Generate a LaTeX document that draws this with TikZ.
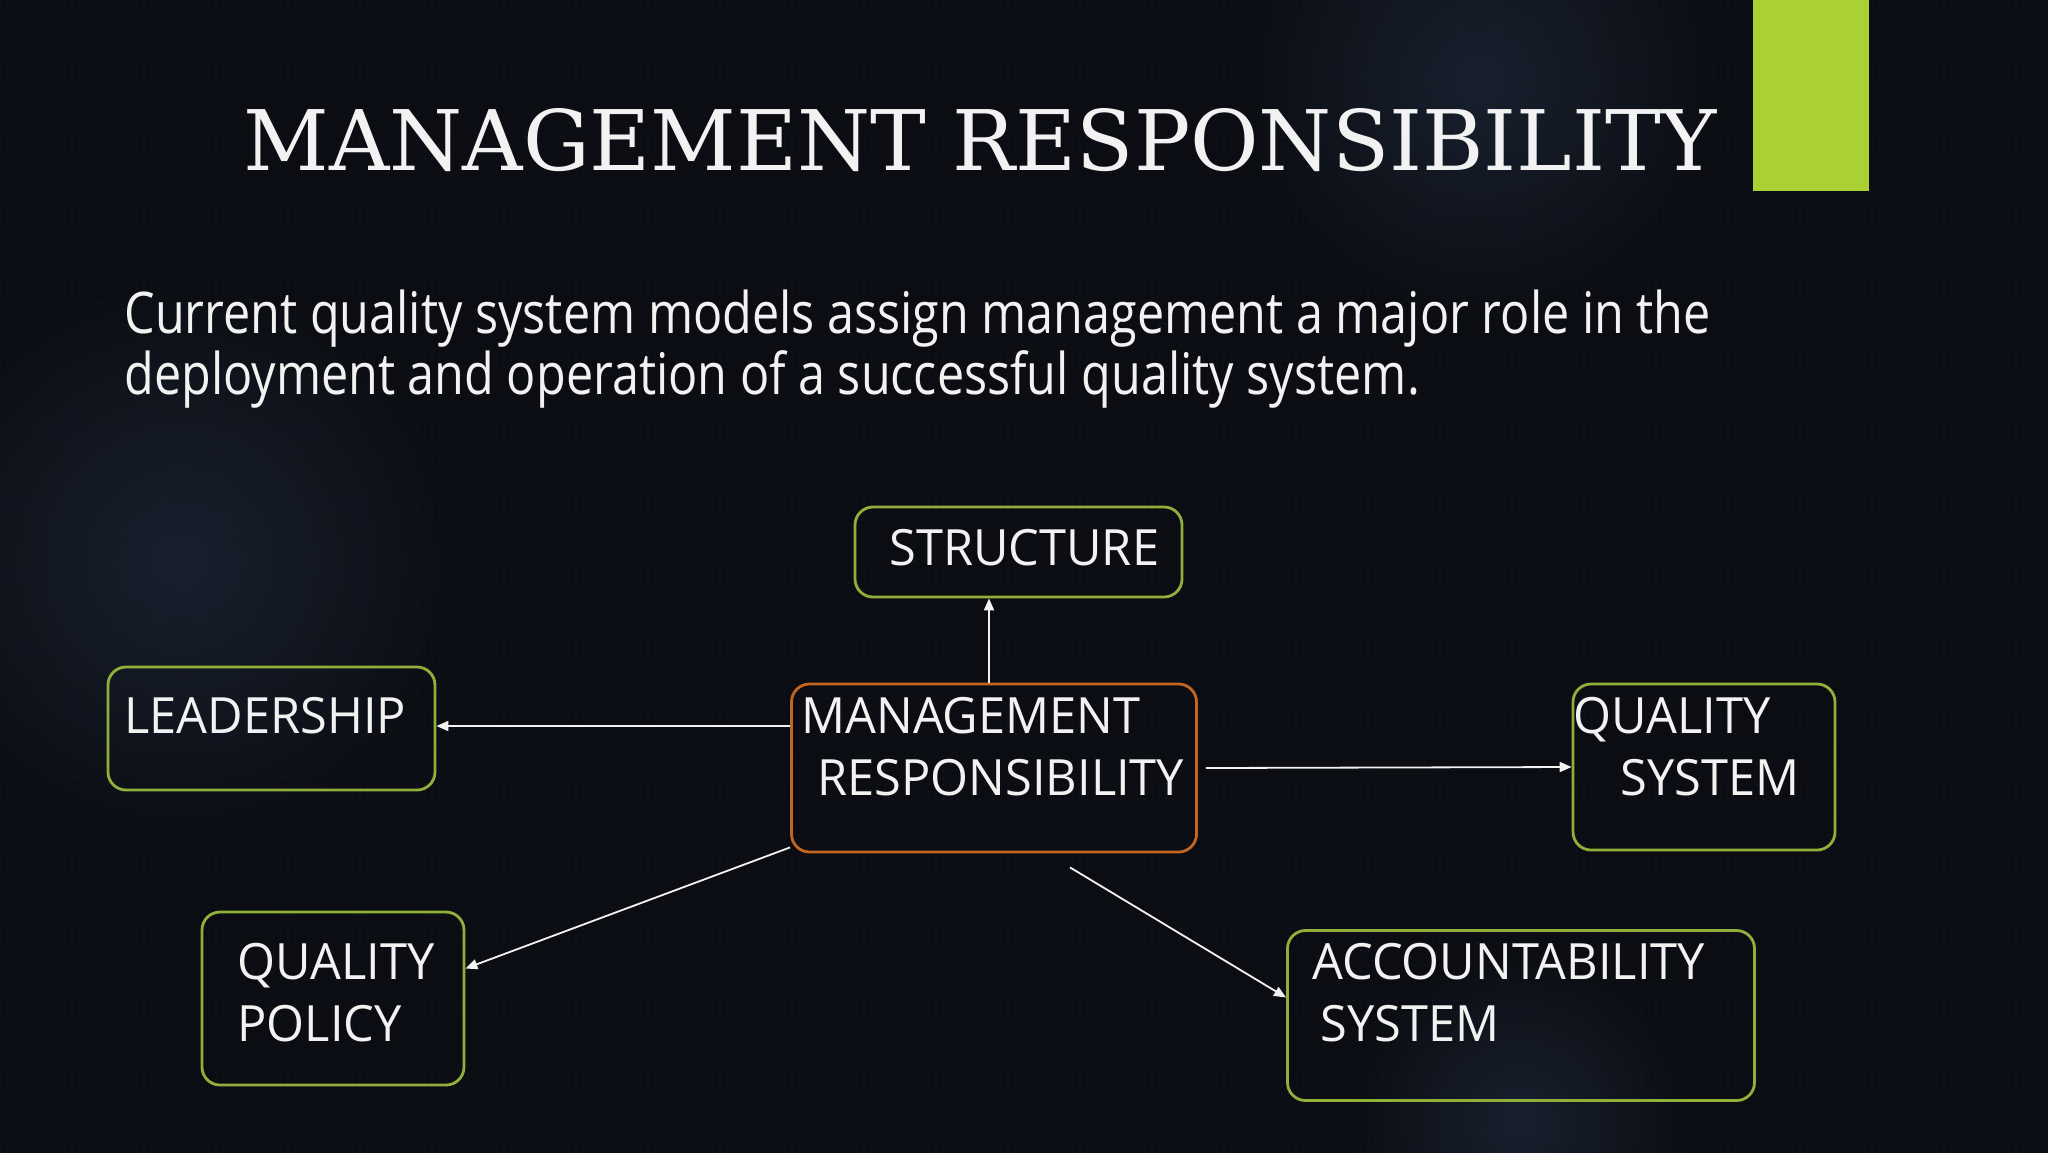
\documentclass[tikz,border=0pt]{standalone}
\usepackage{fontspec}
\setmainfont{Open Sans}[FakeStretch=0.975]
\newfontfamily\bodyfont{Open Sans}[FakeStretch=0.845]
\newfontfamily\titlefont{DejaVu Serif}
\usetikzlibrary{arrows.meta,patterns.meta,calc}
\definecolor{bg}{HTML}{0B0D12}
\definecolor{glow}{HTML}{18202E}
\definecolor{dotc}{HTML}{161A38}
\definecolor{bar}{HTML}{A9D134}
\definecolor{boxgreen}{HTML}{90B03A}
\definecolor{boxorange}{HTML}{C4661F}
\definecolor{txt}{HTML}{F2F2F2}
\tikzset{
  box/.style={draw=boxgreen, line width=1.4pt, rounded corners=9pt, rectangle, inner sep=0pt},
  obox/.style={box, draw=boxorange},
  btext/.style={anchor=north west, inner sep=0pt, align=left, text=txt,
    font=\fontsize{25}{31}\selectfont},
  arr/.style={draw=txt, line width=0.9pt, -{Triangle[length=6pt,width=5pt]}},
}
\begin{document}
\begin{tikzpicture}[x=0.5pt,y=-0.5pt]
\useasboundingbox (0,0) rectangle (2048,1152);
\fill[bg] (-20,-20) rectangle (2068,1172);
\shade[inner color=glow, outer color=bg] (1480,80) circle[radius=240];
\shade[inner color=glow, outer color=bg] (180,560) circle[radius=280];
\shade[inner color=glow, outer color=bg] (1520,1120) circle[radius=170];
\fill[pattern={Dots[distance=3.6pt, radius=0.35pt]}, pattern color=dotc] (0,0) rectangle (2048,1152);

% green bar
\fill[bar] (1753,-20) rectangle (1869,191);

% title
\node[anchor=base, inner sep=0pt, text=txt, font=\titlefont\fontsize{41.8}{50}\selectfont] (title) at (980,170) {MANAGEMENT RESPONSIBILITY};

% body text
\node[anchor=north west, inner sep=0pt, align=left, text=txt, font=\bodyfont\fontsize{28.7}{30.5}\selectfont] (body) at (124,289.5)
  {Current quality system models assign management a major role in the\\deployment and operation of a successful quality system.};

% boxes
\node[box, minimum width=163.5pt, minimum height=45pt] (st) at (1018.5,552) {};
\node[box, minimum width=163.5pt, minimum height=61.5pt] (ld) at (271.5,728.5) {};
\node[obox, minimum width=202.5pt, minimum height=84pt] (mr) at (994,768) {};
\node[box, minimum width=131pt, minimum height=83pt] (qs) at (1704,767) {};
\node[box, minimum width=131pt, minimum height=86.5pt] (qp) at (333,998.5) {};
\node[box, minimum width=233.5pt, minimum height=85pt] (as) at (1521,1015.5) {};

% box texts
\node[btext] (stt) at (889,529) {STRUCTURE};
\node[btext] (ldt) at (124,697) {LEADERSHIP};
\node[btext] (mrt) at (801,697) {MANAGEMENT\\\hspace*{8pt}RESPONSIBILITY};
\node[btext] (qst) at (1573,697) {QUALITY\\\hspace*{23.5pt}SYSTEM};
\node[btext] (qpt) at (237,943) {QUALITY\\POLICY};
\node[btext] (ast) at (1312,943) {ACCOUNTABILITY\\\hspace*{4pt}SYSTEM};

% connectors
\draw[arr] ([xshift=-2.5pt]mr.north) -- ([xshift=-2.5pt]mr.north |- st.south);
\coordinate (lstart) at ([yshift=21pt]mr.west);
\draw[arr] (lstart) -- (lstart -| ld.east);
\draw[arr] ([xshift=4pt]mr.east) -- (qs.west);
\draw[arr] ([yshift=3pt]mr.south west) -- ([yshift=15pt]qp.east);
\draw[arr] ([xshift=38pt,yshift=-7pt]mr.south) -- ([yshift=9pt]as.west);
\end{tikzpicture}
\end{document}
